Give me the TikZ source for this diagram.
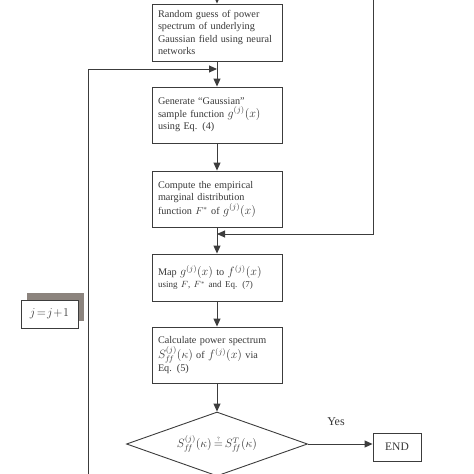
\documentclass[tikz,border=0pt]{standalone}
\usepackage{fontspec}
\setmainfont{Liberation Serif}
\usetikzlibrary{shapes.geometric,arrows.meta,shadows}
\definecolor{linegray}{RGB}{60,60,60}
\definecolor{txtgray}{RGB}{55,55,55}
\definecolor{shadegray}{RGB}{140,132,126}
\newcommand{\mx}[1]{{\large$#1$}}
\tikzset{
	proc/.style={draw=linegray, rectangle, minimum width=130pt, text width=118pt,
		align=left, inner sep=0pt, text=txtgray, font=\fontsize{10.2}{12.5}\selectfont},
	flow/.style={draw=linegray, -{Triangle[length=8pt,width=7pt]}},
	line/.style={draw=linegray},
}
\begin{document}
\begin{tikzpicture}[x=1pt, y=-1pt, line width=0.9pt]
	\useasboundingbox (0,0) rectangle (474,474);
	
	\node[proc, minimum height=57pt] (guess) at (217,32.5) {Random guess of power\\spectrum of underlying\\Gaussian field using neural\\networks};
	\node[proc, minimum height=56pt] (gen) at (217,115) {Generate ``Gaussian''\\sample function \mx{g^{(j)}(x)}\\using Eq. (4)};
	\node[proc, minimum height=56pt] (emp) at (217,199) {Compute the empirical\\marginal distribution\\function $F^{*}$ of \mx{g^{(j)}(x)}};
	\node[proc, minimum height=47pt] (map) at (217,277.5) {Map \mx{g^{(j)}(x)} to \mx{f^{(j)}(x)}\\{\small using $F$, $F^{*}$ and Eq. (7)}};
	\node[proc, minimum height=56pt] (calc) at (217,355) {Calculate power spectrum\\\mx{S_{f\!f}^{(j)}(\kappa)} of \mx{f^{(j)}(x)} via\\Eq. (5)};
	\node[diamond, draw=linegray, aspect=2.8, minimum width=181pt, minimum height=64pt, inner sep=0pt, text=txtgray] (check) at (217,444) {\mx{S_{f\!f}^{(j)}(\kappa)\,{\stackrel{\scriptscriptstyle ?}{=}}\,S_{f\!f}^{T}(\kappa)}};
	\node[draw=linegray, minimum width=48pt, minimum height=28pt, inner sep=0pt, text=txtgray, font=\fontsize{11.5}{13}\selectfont] (end) at (397,447) {END};
	\node[text=txtgray, font=\fontsize{12}{14}\selectfont] (yes) at (336,422) {Yes};
	\node[draw=linegray, fill=white, minimum width=57pt, minimum height=28pt, inner sep=0pt, text=txtgray,
		font=\fontsize{11.5}{13}\selectfont,
		drop shadow={shadow xshift=6pt, shadow yshift=7pt, fill=shadegray, opacity=1}] (incr) at (49.5,314) {$j\!=\!j\!+\!1$};
	
	\coordinate (top) at (217,0);
	\coordinate (rtop) at (373,0);
	\coordinate (rbot) at (373,234);
	\coordinate (lbot) at (88,474);
	\coordinate (ltop) at (88,69);
	
	\draw[flow] (top) -- (guess);
	\draw[flow] (guess) -- (gen);
	\draw[flow] (lbot) -- (ltop) -- (ltop -| guess.south);
	\draw[flow] (gen) -- (emp);
	\draw[flow] (emp) -- (map);
	\draw[flow] (rtop) -- (rbot) -- (rbot -| emp.south);
	\draw[flow] (map) -- (calc);
	\draw[flow] (calc) -- (check);
	\draw[flow] (check.east) -- (check.east -| end.west);
\end{tikzpicture}
\end{document}
